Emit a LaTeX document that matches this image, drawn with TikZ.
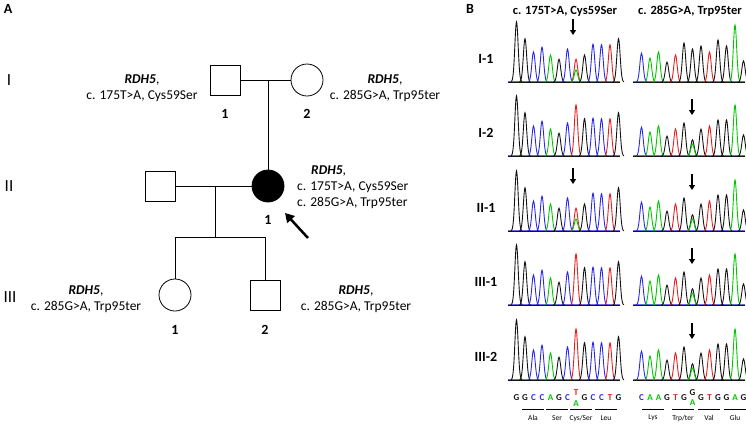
\documentclass[tikz,border=0pt]{standalone}
\usepackage{fontspec}
\setmainfont{Carlito}
\usetikzlibrary{arrows.meta}

\definecolor{baseA}{RGB}{0,200,0}
\definecolor{baseC}{RGB}{40,40,230}
\definecolor{baseG}{RGB}{20,20,20}
\definecolor{baseT}{RGB}{230,30,30}

% one chromatogram: x0, baseline, list of colour/height/position
\newcommand{\chrom}[3]{%
  \draw[baseC!70, line width=0.5pt] (#1,#2-1) -- (#1+112,#2-1);
  \draw[baseT!70, line width=0.5pt] (#1,#2) -- (#1+112,#2);
  \draw[baseG, line width=0.5pt] (#1,#2+0.5) -- (#1+112,#2+0.5);
  \foreach \c/\h/\i in {#3}
    \draw[\c, line width=0.9pt] plot[domain=-5.5:5.5, samples=19, smooth]
      ({#1+\i*8.5+\x},{#2-\h*60*exp(-\x*\x/5.5)});
}

\begin{document}
\begin{tikzpicture}[x=1pt, y=-1pt, font=\fontsize{13.5}{16}\selectfont]
\tikzset{male/.style={draw, line width=0.8pt, minimum size=30pt, inner sep=0pt}}
\tikzset{female/.style={draw, circle, line width=0.8pt, minimum size=32pt, inner sep=0pt}}
\tikzset{tag/.style={align=center, inner sep=0pt}}
\tikzset{gen/.style={font=\fontsize{17}{18}\selectfont}}
\tikzset{hdr/.style={font=\bfseries\fontsize{14}{16}\selectfont}}
\tikzset{row/.style={font=\bfseries\fontsize{14}{16}\selectfont}}
\tikzset{num/.style={font=\bfseries\fontsize{14}{16}\selectfont}}
\tikzset{downmark/.style={-{Triangle[length=5pt,width=6pt]}, line width=2pt}}
\useasboundingbox (0,0) rectangle (746,424);

%panel letters
\node[hdr] (pa) at (8,9) {A};
\node[hdr] (pb) at (470,9) {B};

%generations
\node[gen] (g1) at (9,80) {I};
\node[gen] (g2) at (9,186) {II};
\node[gen] (g3) at (10,297) {III};

%individuals
\node[male] (i1) at (225,80) {};
\node[female] (i2) at (307,80) {};
\node[male] (ii0) at (160,186) {};
\node[female, fill=black] (ii1) at (268,186) {};
\node[female] (iii1) at (175,295) {};
\node[male] (iii2) at (265,295) {};
\node[num] (n11) at (225,114) {1};
\node[num] (n12) at (307,114) {2};
\node[num] (n21) at (268,220) {1};
\node[num] (n31) at (175,330) {1};
\node[num] (n32) at (265,330) {2};

%lines
\coordinate (m1) at (268,80);
\coordinate (m2) at (215,186);
\coordinate (s3) at (215,237);
\coordinate (s3a) at (175,237);
\coordinate (s3b) at (265,237);
\draw[line width=0.8pt] (i1) -- (i2);
\draw[line width=0.8pt] (m1) -- (ii1);
\draw[line width=0.8pt] (ii0) -- (ii1);
\draw[line width=0.8pt] (m2) -- (s3);
\draw[line width=0.8pt] (s3a) -- (s3b);
\draw[line width=0.8pt] (s3a) -- (iii1);
\draw[line width=0.8pt] (s3b) -- (iii2);
\coordinate (pr) at (308,238);
\coordinate (pt) at (285,213);
\draw[-{Triangle[length=9pt,width=10pt]}, line width=2.5pt] (pr) -- (pt);

%genotypes
\node[tag] (t11) at (142,88) {\textit{\textbf{RDH5}},\\c. 175T>A, Cys59Ser};
\node[tag] (t12) at (385,88) {\textit{\textbf{RDH5}},\\c. 285G>A, Trp95ter};
\node[tag, align=left, anchor=west] (t21) at (297,187) {\hspace{14pt}\textit{\textbf{RDH5}},\\c. 175T>A, Cys59Ser\\c. 285G>A, Trp95ter};
\node[tag] (t31) at (86,299) {\textit{\textbf{RDH5}},\\c. 285G>A, Trp95ter};
\node[tag] (t32) at (356,299) {\textit{\textbf{RDH5}},\\c. 285G>A, Trp95ter};

%panel B headers
\node[font=\bfseries\fontsize{12.5}{14}\selectfont] (h1) at (565,11) {c. 175T>A, Cys59Ser};
\node[font=\bfseries\fontsize{12.5}{14}\selectfont] (h2) at (690,11) {c. 285G>A, Trp95ter};

%rows
\foreach \r/\y/\lab/\hl/\hr in {1/82/I-1/1/0, 2/156/I-2/0/1, 3/231/II-1/1/1, 4/305/III-1/0/1, 5/380/III-2/0/1}{
  \node[row] (r\r) at (486,\y-23) {\lab};
  \ifnum\hl=1
    \chrom{508}{\y}{baseG/1/1, baseG/.72/2, baseC/.5/3, baseC/.58/4, baseA/.45/5, baseG/.38/6, baseC/.55/7, baseT/.38/8, baseA/.2/8, baseG/.45/9, baseC/.63/10, baseC/.62/11, baseT/.62/12, baseG/.72/13}
    \draw[downmark] (573,\y-63) -- (573,\y-47);
  \else
    \chrom{508}{\y}{baseG/1/1, baseG/.72/2, baseC/.5/3, baseC/.58/4, baseA/.45/5, baseG/.38/6, baseC/.55/7, baseT/.85/8, baseG/.62/9, baseC/.63/10, baseC/.62/11, baseT/.62/12, baseG/.72/13}
  \fi
  \ifnum\hr=1
    \chrom{633}{\y}{baseC/.48/1, baseA/.4/2, baseA/.5/3, baseG/.33/4, baseT/.45/5, baseG/.55/6, baseG/.27/7, baseA/.2/7, baseG/.45/8, baseT/.5/9, baseG/.6/10, baseG/.6/11, baseA/.85/12, baseG/.35/13}
    \draw[downmark] (692,\y-57) -- (692,\y-41);
  \else
    \chrom{633}{\y}{baseC/.48/1, baseA/.4/2, baseA/.5/3, baseG/.33/4, baseT/.45/5, baseG/.65/6, baseG/.55/7, baseG/.6/8, baseT/.5/9, baseG/.7/10, baseG/.6/11, baseA/.95/12, baseG/.35/13}
  \fi
}

%sequence
\foreach \b/\c/\dy [count=\i] in {G/baseG/0, G/baseG/0, C/baseC/0, C/baseC/0, A/baseA/0, G/baseG/0, C/baseC/0, T/baseT/-5, G/baseG/0, C/baseC/0, C/baseC/0, T/baseT/0, G/baseG/0}
  \node[\c, font=\bfseries\fontsize{9}{10}\selectfont] (sa\i) at (508+\i*8.5,398+\dy) {\b};
\node[baseA, font=\bfseries\fontsize{9}{10}\selectfont] (sax) at (576,404) {A};
\foreach \b/\c/\dy [count=\i] in {C/baseC/0, A/baseA/0, A/baseA/0, G/baseG/0, T/baseT/0, G/baseG/0, G/baseG/-5, G/baseG/0, T/baseT/0, G/baseG/0, G/baseG/0, A/baseA/0, G/baseG/0}
  \node[\c, font=\bfseries\fontsize{9}{10}\selectfont] (sb\i) at (633+\i*8.5,398+\dy) {\b};
\node[baseA, font=\bfseries\fontsize{9}{10}\selectfont] (sbx) at (692.5,403) {A};

%codons
\foreach \x/\a in {533/Ala, 557/Ser, 581/{Cys/Ser}, 606/Leu, 653/Lys, 683/{Trp/ter}, 709/Val, 735/Glu}{
  \draw[line width=0.6pt] (\x-11,409) -- (\x+11,409);
  \node[font=\fontsize{7.5}{8}\selectfont] (aa\x) at (\x,418) {\a};
}
\end{tikzpicture}
\end{document}
